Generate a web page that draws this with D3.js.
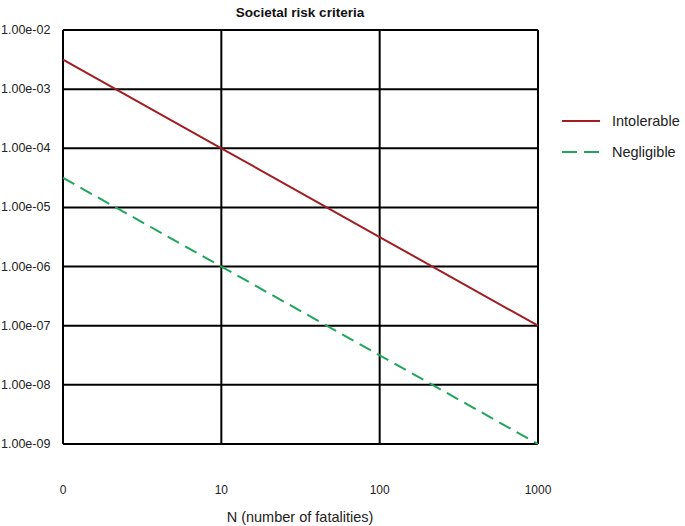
<!DOCTYPE html>
<html><head><meta charset="utf-8">
<script src="https://cdn.jsdelivr.net/npm/d3@7"></script>
<style>body{margin:0;background:#fff}svg{display:block;font-family:"Liberation Sans",Arial,sans-serif}</style>
</head><body><svg id="c" width="685" height="526"></svg>
<script>
const nValues = [1, 10, 100, 1000];
const xTickLabels = ["0", "10", "100", "1000"];
const intolerable = [3.16e-3, 1e-4, 3.16e-6, 1e-7];
const negligible = [3.16e-5, 1e-6, 3.16e-8, 1e-9];
const yTicks = [1e-2, 1e-3, 1e-4, 1e-5, 1e-6, 1e-7, 1e-8, 1e-9];
const seriesNames = ["Intolerable", "Negligible"];

const svg = d3.select("#c");
const m = {l: 63, r: 538, t: 30, b: 444};
const x = d3.scaleLog().domain([1, 1000]).range([m.l, m.r]);
const y = d3.scaleLog().domain([1e-9, 1e-2]).range([m.b, m.t]);

// grid
svg.append("g").selectAll("line").data(yTicks).join("line")
  .attr("x1", m.l).attr("x2", m.r).attr("y1", d => y(d)).attr("y2", d => y(d))
  .attr("stroke", "#000").attr("stroke-width", 2);
svg.append("g").selectAll("line").data(nValues).join("line")
  .attr("x1", d => x(d)).attr("x2", d => x(d)).attr("y1", m.t).attr("y2", m.b)
  .attr("stroke", "#000").attr("stroke-width", 2);

// y labels
svg.append("g").selectAll("text").data(yTicks).join("text")
  .attr("x", 1).attr("y", d => y(d) + 4).attr("font-size", 12.5).attr("fill", "#222")
  .text(d => d.toExponential(2).replace(/e-(\d)$/, "e-0$1"));
// x labels
svg.append("g").selectAll("text").data(nValues).join("text")
  .attr("x", d => x(d)).attr("y", 494).attr("text-anchor", "middle").attr("font-size", 12).attr("fill", "#222")
  .text((d, i) => xTickLabels[i]);

const line = d3.line().x((d, i) => x(nValues[i])).y(d => y(d));
svg.append("path").datum(intolerable).attr("d", line).attr("fill", "none")
  .attr("stroke", "#a31c22").attr("stroke-width", 2);
svg.append("path").datum(negligible).attr("d", line).attr("fill", "none")
  .attr("stroke", "#1fa65a").attr("stroke-width", 2).attr("stroke-dasharray", "13,7");

// title
svg.append("text").attr("x", 300).attr("y", 17).attr("text-anchor", "middle")
  .attr("font-size", 13.5).attr("font-weight", "bold").attr("fill", "#111").text("Societal risk criteria");
svg.append("text").attr("x", 300).attr("y", 522).attr("text-anchor", "middle")
  .attr("font-size", 14.5).attr("fill", "#222").text("N (number  of fatalities)");

// legend
const lg = svg.append("g");
const cols = ["#a31c22", "#1fa65a"], dashes = [null, "15,7"];
seriesNames.forEach((s, i) => {
  const yy = 121 + i * 31;
  lg.append("line").attr("x1", 562).attr("x2", 600).attr("y1", yy).attr("y2", yy)
    .attr("stroke", cols[i]).attr("stroke-width", 2).attr("stroke-dasharray", dashes[i]);
  lg.append("text").attr("x", 612).attr("y", yy + 5).attr("font-size", 14.5).attr("fill", "#222").text(s);
});
</script></body></html>
